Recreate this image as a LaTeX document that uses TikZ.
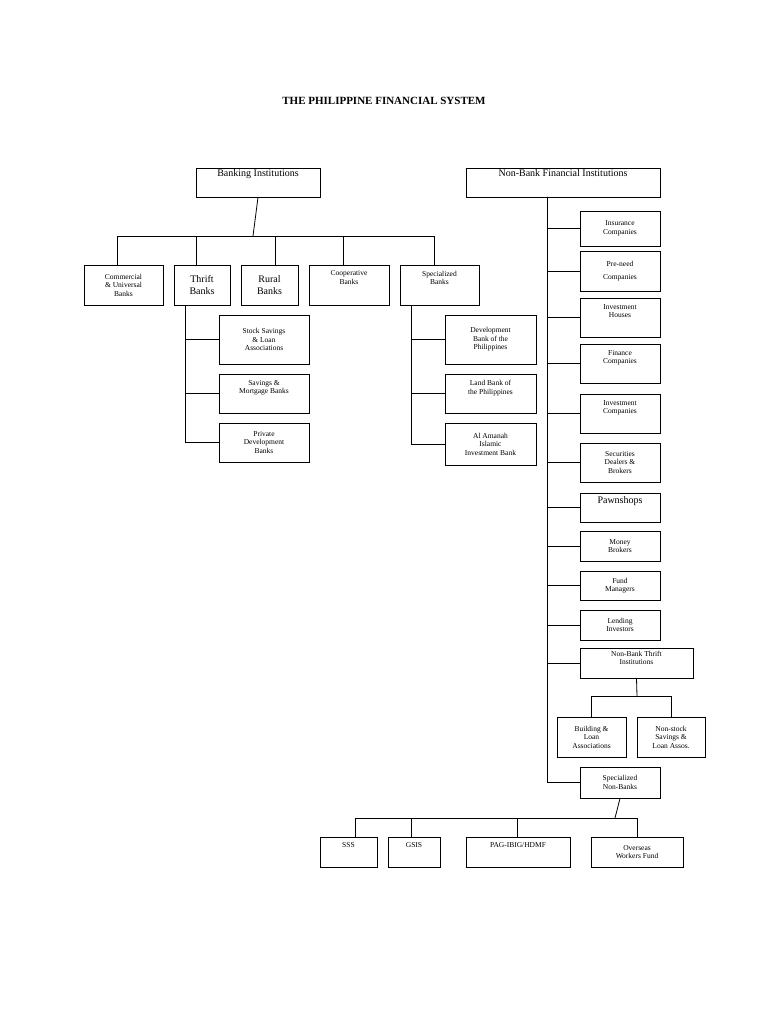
\documentclass[tikz,border=0pt]{standalone}
\usepackage{fontspec}
\setmainfont{Liberation Serif}
\begin{document}
\begin{tikzpicture}[x=1pt,y=-1pt,
  box/.style={draw, thick, align=center, inner sep=1pt, font=\fontsize{7.5}{8.5}\selectfont},
  bigbox/.style={box, font=\fontsize{10}{12}\selectfont}]
\useasboundingbox (0,0) rectangle (768,1024);
\node[font=\bfseries\fontsize{11}{13}\selectfont] (title) at (384,101) {THE PHILIPPINE FINANCIAL SYSTEM};
% top level
\node[bigbox, minimum width=124, minimum height=29] (bank) at (258,182.5) {Banking Institutions\\[7pt]};
\node[bigbox, minimum width=194, minimum height=29] (nbfi) at (563,182.5) {Non-Bank Financial Institutions\\[7pt]};
% banking institutions
\node[box, minimum width=79, minimum height=40] (cub) at (123.5,285) {Commercial\\\& Universal\\Banks};
\node[bigbox, minimum width=56, minimum height=40] (thr) at (202,285) {Thrift\\Banks};
\node[bigbox, minimum width=57, minimum height=40] (rur) at (269.5,285) {Rural\\Banks};
\node[box, minimum width=80, minimum height=40] (coop) at (349,285) {Cooperative\\Banks\\[6pt]};
\node[box, minimum width=79, minimum height=40] (spec) at (439.5,285) {Specialized\\Banks\\[6pt]};
\coordinate (bj) at (253,236);
\draw[thick] (bank.south) -- (bj);
\foreach \n/\x in {cub/117,thr/196,rur/275,coop/343,spec/434}
  \draw[thick] (bj) -| (\x,265);
% thrift banks
\node[box, minimum width=90, minimum height=49] (ssl) at (264,339.5) {Stock Savings\\\& Loan\\Associations};
\node[box, minimum width=90, minimum height=39] (smb) at (264,393.5) {Savings \&\\Mortgage Banks\\[4pt]};
\node[box, minimum width=90, minimum height=39] (pdb) at (264,442.5) {Private\\Development\\Banks};
\coordinate (tt) at (185,305);
\foreach \n in {ssl,smb,pdb}
  \draw[thick] (tt) |- (\n.west);
% specialized banks
\node[box, minimum width=91, minimum height=49] (dbp) at (490.5,339.5) {Development\\Bank of the\\Philippines};
\node[box, minimum width=91, minimum height=39] (lbp) at (490.5,393.5) {Land Bank of\\the Philippines\\[4pt]};
\node[box, minimum width=91, minimum height=42] (aaib) at (490.5,444) {Al Amanah\\Islamic\\Investment Bank};
\coordinate (st) at (411,305);
\foreach \n in {dbp,lbp,aaib}
  \draw[thick] (st) |- (\n.west);
% non-bank financial institutions
\node[box, minimum width=80, minimum height=35] (ins) at (620,228.5) {Insurance\\Companies};
\node[box, minimum width=80, minimum height=40] (pre) at (620,271) {Pre-need\\[4pt]Companies};
\node[box, minimum width=80, minimum height=39] (ivh) at (620,317.5) {Investment\\Houses\\[4pt]};
\node[box, minimum width=80, minimum height=39] (fin) at (620,363.5) {Finance\\Companies\\[4pt]};
\node[box, minimum width=80, minimum height=39] (ivc) at (620,413.5) {Investment\\Companies\\[4pt]};
\node[box, minimum width=80, minimum height=39] (sec) at (620,462.5) {Securities\\Dealers \&\\Brokers};
\node[bigbox, minimum width=80, minimum height=29] (paw) at (620,507.5) {Pawnshops\\[3pt]};
\node[box, minimum width=80, minimum height=30] (mon) at (620,546) {Money\\Brokers};
\node[box, minimum width=80, minimum height=29] (fund) at (620,585.5) {Fund\\Managers};
\node[box, minimum width=80, minimum height=30] (lend) at (620,625) {Lending\\Investors};
\node[box, minimum width=113, minimum height=30] (nbt) at (636.5,663) {Non-Bank Thrift\\Institutions\\[2pt]};
\node[box, minimum width=80, minimum height=31] (snb) at (620,782.5) {Specialized\\Non-Banks};
\coordinate (nt) at (547,197);
\foreach \n in {ins,pre,ivh,fin,ivc,sec,paw,mon,fund,lend,nbt,snb}
  \draw[thick] (nt) |- (\n.west);
% non-bank thrift institutions
\node[box, minimum width=69, minimum height=40] (bla) at (591.5,737) {Building \&\\Loan\\Associations};
\node[box, minimum width=68, minimum height=40] (nss) at (671,737) {Non-stock\\Savings \&\\Loan Assos.};
\coordinate (nj) at (637,696);
\draw[thick] (nbt.south) -- (nj);
\draw[thick] (nj) -| (bla.north);
\draw[thick] (nj) -| (nss.north);
% specialized non-banks
\node[box, minimum width=57, minimum height=30] (sss) at (348.5,852) {SSS\\[6pt]};
\node[box, minimum width=52, minimum height=30] (gsis) at (414,852) {GSIS\\[6pt]};
\node[box, minimum width=104, minimum height=30] (pag) at (518,852) {PAG-IBIG/HDMF\\[6pt]};
\node[box, minimum width=92, minimum height=30] (owf) at (637,852) {Overseas\\Workers Fund};
\coordinate (sj) at (615,818);
\draw[thick] (snb.south) -- (sj);
\foreach \x in {355,411,517,637}
  \draw[thick] (sj) -| (\x,837);
\end{tikzpicture}
\end{document}
